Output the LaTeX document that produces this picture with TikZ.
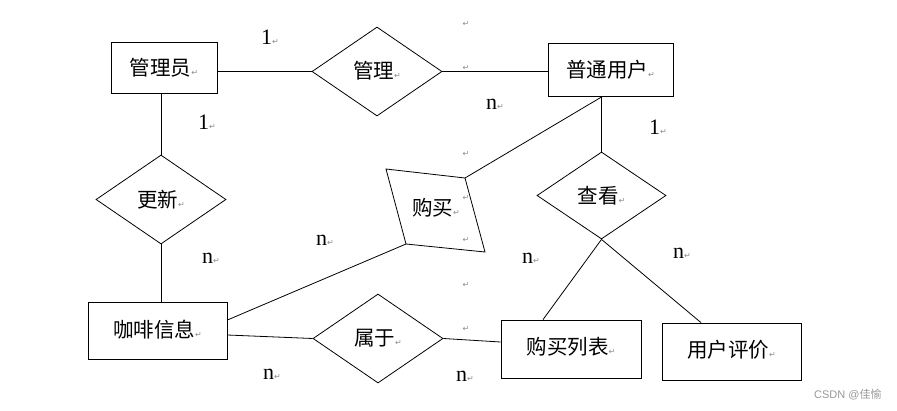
\documentclass[tikz,border=0pt]{standalone}
\usepackage{fontspec}
\setmainfont{Liberation Serif}
\newfontfamily\cjk{Noto Sans CJK SC}[FakeBold=0]
\newfontfamily\markfont{DejaVu Sans}
\newfontfamily\wmfont{Liberation Sans}
\usetikzlibrary{shapes.geometric}
\newcommand{\retmark}{{\markfont\fontsize{8}{9}\selectfont\color{black!45}↵}}
\tikzset{
  entity/.style={draw, line width=0.8pt, inner sep=0pt, font=\cjk\fontsize{20.5}{22}\selectfont},
  relation/.style={draw, diamond, line width=0.8pt, inner sep=0pt, font=\cjk\fontsize{20.5}{22}\selectfont},
  card/.style={anchor=west, inner sep=0pt, font=\fontsize{22}{24}\selectfont},
  lonemark/.style={inner sep=0pt},
  conn/.style={line width=0.8pt}
}
\begin{document}
\begin{tikzpicture}[x=1pt,y=-1pt]
\useasboundingbox[fill=white] (0,0) rectangle (897,410);
% entities
\node[entity, minimum width=106, minimum height=51] (gly) at (164,67.5) {\raisebox{2pt}{管理员\retmark}};
\node[entity, minimum width=125, minimum height=53] (ptyh) at (610.5,69.5) {\raisebox{2pt}{普通用户\retmark}};
\node[entity, minimum width=139, minimum height=57] (kfxx) at (157.5,330.5) {\raisebox{4pt}{咖啡信息\retmark}};
\node[entity, minimum width=140, minimum height=58] (gmlb) at (571,349) {\raisebox{6pt}{购买列表\retmark}};
\node[entity, minimum width=139, minimum height=57] (yhpj) at (731.5,351.5) {\raisebox{6pt}{用户评价\retmark}};
% relations
\node[relation, minimum width=130, minimum height=89] (gl) at (377,71.5) {\raisebox{3pt}{管理\retmark}};
\node[relation, minimum width=130, minimum height=89] (gx) at (161,199.5) {\raisebox{2pt}{更新\retmark}};
\node[relation, minimum width=130, minimum height=89] (sy) at (378,338.5) {\raisebox{2pt}{属于\retmark}};
\node[relation, minimum width=129, minimum height=87] (ck) at (601.5,195.5) {\raisebox{2pt}{查看\retmark}};
% parallelogram relation
\coordinate (gm1) at (386,169);
\coordinate (gm2) at (465,178);
\coordinate (gm3) at (485,252);
\coordinate (gm4) at (406,244);
\draw[line width=0.8pt] (gm1) -- (gm2) -- (gm3) -- (gm4) -- cycle;
\node[inner sep=0pt, font=\cjk\fontsize{20.5}{22}\selectfont] (gm) at (436,208) {购买\retmark};
% connectors
\draw[conn] (gly.east |- gl.west) -- (gl.west);
\draw[conn] (gl.east) -- ([yshift=-2]ptyh.west);
\draw[conn] (gx.north |- gly.south) -- (gx.north);
\draw[conn] (gx.south) -- (gx.south |- kfxx.north);
\draw[conn] ([xshift=-8]ptyh.south) -- (gm2);
\draw[conn] (ck.north |- ptyh.south) -- (ck.north);
\draw[conn] (gm4) -- ([yshift=10.5]kfxx.east);
\draw[conn] ([yshift=-4.5]kfxx.east) -- (sy.west);
\draw[conn] (sy.east) -- ([yshift=7]gmlb.west);
\draw[conn] (ck.south) -- ([xshift=-28]gmlb.north);
\draw[conn] (ck.south) -- ([xshift=-30.5]yhpj.north);
% cardinalities
\node[card] (c1) at (261,37) {1\retmark};
\node[card] (c2) at (198,122) {1\retmark};
\node[card] (c3) at (486,104) {n\retmark};
\node[card] (c4) at (649,127) {1\retmark};
\node[card] (c5) at (202,258) {n\retmark};
\node[card] (c6) at (316,240) {n\retmark};
\node[card] (c7) at (522,258) {n\retmark};
\node[card] (c8) at (673,253) {n\retmark};
\node[card] (c9) at (263,374) {n\retmark};
\node[card] (c10) at (456,376) {n\retmark};
% lone paragraph marks
\node[lonemark] (m1) at (466,24) {\retmark};
\node[lonemark] (m2) at (466,68) {\retmark};
\node[lonemark] (m3) at (466,154) {\retmark};
\node[lonemark] (m4) at (466,198) {\retmark};
\node[lonemark] (m5) at (466,240) {\retmark};
\node[lonemark] (m6) at (466,285) {\retmark};
\node[lonemark] (m7) at (466,329) {\retmark};
% watermark
\node[inner sep=0pt, anchor=west, text=black!40, font=\fontsize{11}{12}\selectfont] (wm) at (814,395) {\wmfont CSDN @\cjk 佳愉};
\end{tikzpicture}
\end{document}
